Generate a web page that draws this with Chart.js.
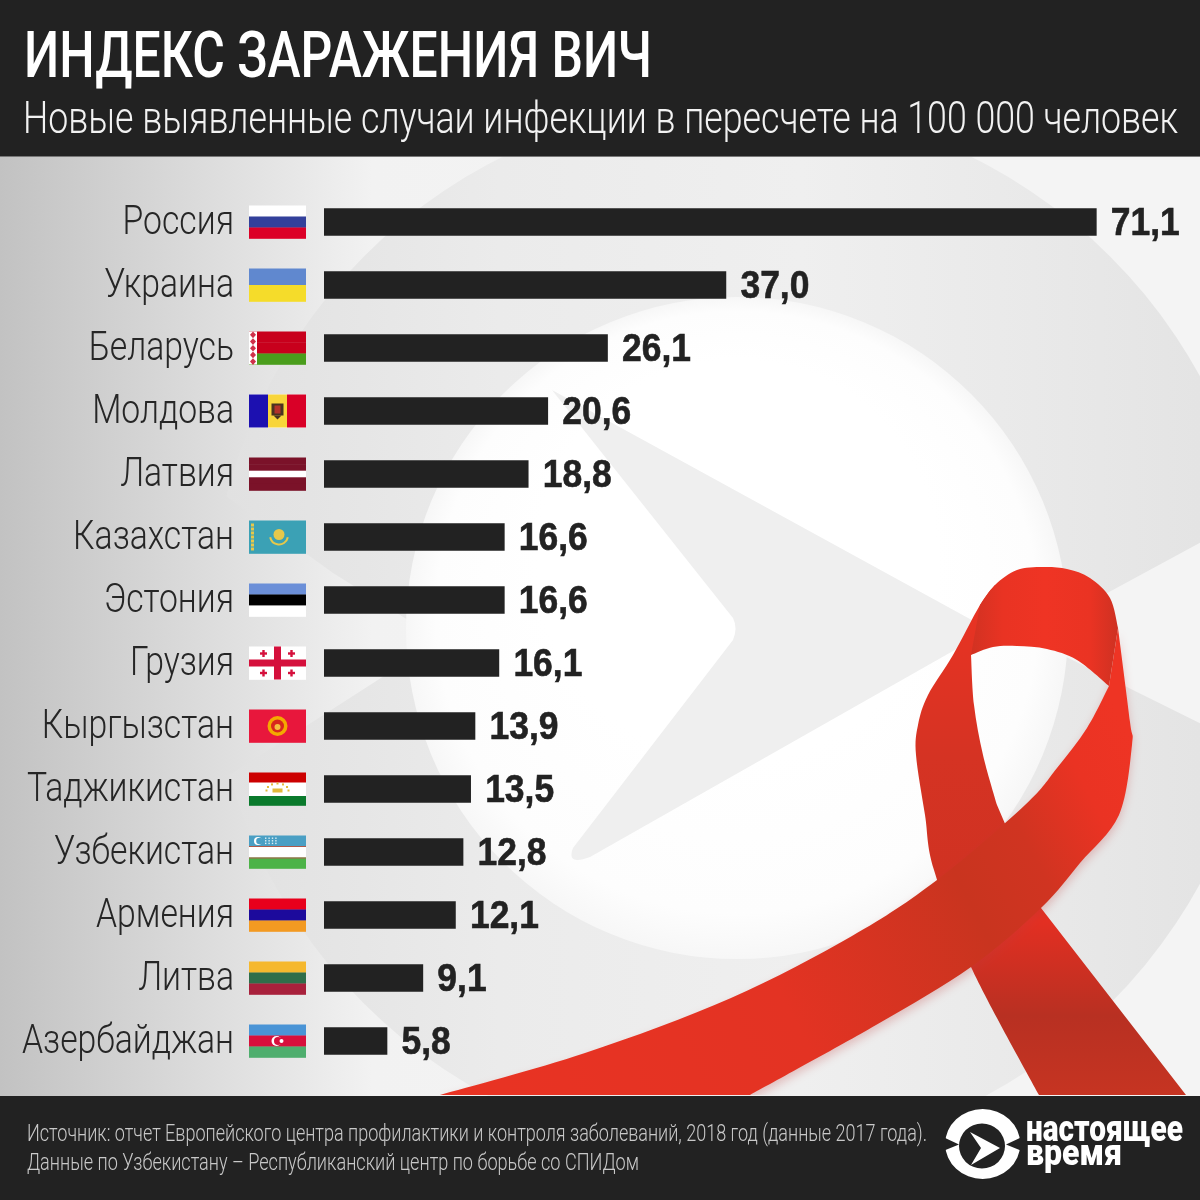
<!DOCTYPE html>
<html lang="ru">
<head>
<meta charset="utf-8">
<title>Индекс заражения ВИЧ</title>
<script src="https://cdn.jsdelivr.net/npm/chart.js@4"></script>
<style>
html, body { margin: 0; padding: 0; background: #222; }
#wrap { position: relative; width: 1200px; height: 1200px; overflow: hidden; }
canvas { position: absolute; left: 0; top: 0; }
.txt { position: absolute; white-space: nowrap; transform-origin: 0 0; font-family: Roboto, sans-serif; line-height: 1; }
#title { left: 24px; top: 23px; font-size: 65px; font-weight: 500; color: #fff; }
#subtitle { left: 23px; top: 96px; font-size: 44px; font-weight: 300; color: #f2f2f2; }
.note { left: 27px; font-size: 23px; font-weight: 300; color: #c9c9c9; }
#note1 { top: 1122px; }
#note2 { top: 1151px; }
.logo { font-weight: 900; color: #fff; font-size: 36px; left: 1026px; }
#logo1 { top: 1111px; }
#logo2 { top: 1135px; }
#mark { position: absolute; left: 940px; top: 1100px; }
</style>
</head>
<body>
<div id="wrap">
  <canvas id="chart" width="1200" height="1200"></canvas>
  <div class="txt" id="title" data-w="628">ИНДЕКС ЗАРАЖЕНИЯ ВИЧ</div>
  <div class="txt" id="subtitle" data-w="1155">Новые выявленные случаи инфекции в пересчете на 100 000 человек</div>
  <div class="txt note" id="note1" data-w="900">Источник: отчет Европейского центра профилактики и контроля заболеваний, 2018 год (данные 2017 года).</div>
  <div class="txt note" id="note2" data-w="612">Данные по Узбекистану – Республиканский центр по борьбе со СПИДом</div>
  <svg id="mark" width="90" height="90" viewBox="0 0 90 90">
    <path fill="#fff" fill-rule="evenodd" d="M42.7 9 A37.5 35 0 1 1 42.7 79 A37.5 35 0 1 1 42.7 9 Z M42 23.5 A23 22.5 0 1 0 42 68.5 A23 22.5 0 1 0 42 23.5 Z"/>
    <path fill="#222" d="M19 44.5 L3 37 L3 51 Z M66 44.5 L82 37 L82 51 Z"/>
    <path fill="#fff" d="M30 32 L60 48 L31 65 L41 48 Z"/>
  </svg>
  <div class="txt logo" id="logo1" data-w="157">настоящее</div>
  <div class="txt logo" id="logo2" data-w="96">время</div>
</div>
<script>
var categories = ['Россия', 'Украина', 'Беларусь', 'Молдова', 'Латвия', 'Казахстан', 'Эстония', 'Грузия', 'Кыргызстан', 'Таджикистан', 'Узбекистан', 'Армения', 'Литва', 'Азербайджан'];
var values = [71.1, 37.0, 26.1, 20.6, 18.8, 16.6, 16.6, 16.1, 13.9, 13.5, 12.8, 12.1, 9.1, 5.8];
var flagStripes = [
    ['#ffffff', '#33409b', '#dc0027'],
    ['#6088cf', '#f5dc2a'],
    ['#c8001c', '#c8001c', '#4a9d1c'],
    ['#ffffff'],
    ['#7b1229', '#7b1229', '#ffffff', '#7b1229', '#7b1229'],
    ['#3ba1b5'],
    ['#6b8fd8', '#000000', '#ffffff'],
    ['#ffffff'],
    ['#e8173c'],
    ['#cc0000', '#ffffff', '#0a7a2c'],
    ['#4a9fc4', '#ffffff', '#4cb348'],
    ['#e8001c', '#1c0a9c', '#f39a22'],
    ['#f5b82e', '#2f6e4a', '#a8213c'],
    ['#4a94d6', '#d8103c', '#4fae6e']
];

// squeeze the light Roboto down to the width it has in the picture
document.querySelectorAll('.txt').forEach(function (el) {
    var w = el.getBoundingClientRect().width;
    el.style.transform = 'scaleX(' + (el.dataset.w / w) + ')';
});

function chain(ctx, pts) {
    // smooth line through the points, starts from the current point (pts[0])
    for (var i = 0; i < pts.length - 1; i++) {
        var p0 = pts[i - 1] || pts[i], p1 = pts[i], p2 = pts[i + 1], p3 = pts[i + 2] || p2;
        ctx.bezierCurveTo(p1[0] + (p2[0] - p0[0]) / 6, p1[1] + (p2[1] - p0[1]) / 6,
            p2[0] - (p3[0] - p1[0]) / 6, p2[1] - (p3[1] - p1[1]) / 6, p2[0], p2[1]);
    }
}

function linear(ctx, x0, y0, x1, y1, stops) {
    var g = ctx.createLinearGradient(x0, y0, x1, y1);
    stops.forEach(function (s) { g.addColorStop(s[0], s[1]); });
    return g;
}

function drawBackground(ctx) {
    var base = linear(ctx, 0, 0, 1200, 0, [[0, '#c2c2c2'], [0.17, '#dcdcdc'], [0.25, '#e8e8e8'], [0.31, '#f2f2f2'], [0.6, '#f4f4f4'], [1, '#f4f4f4']]);
    ctx.fillStyle = base;
    ctx.fillRect(0, 156, 1200, 940);

    // big ring of the logo
    ctx.save();
    ctx.beginPath();
    ctx.rect(0, 156, 1200, 940);
    ctx.clip();
    ctx.fillStyle = linear(ctx, 200, 0, 1200, 0, [[0, '#e0e0e0'], [0.3, '#ebebeb'], [0.6, '#efefef'], [0.8, '#eaeaea'], [1, '#e4e4e4']]);
    ctx.beginPath();
    ctx.arc(737, 630, 528, 0, Math.PI * 2);
    ctx.fill();
    // gaps left and right
    ctx.fillStyle = base;
    ctx.beginPath();
    ctx.moveTo(1026, 637); ctx.lineTo(1270, 505); ctx.lineTo(1270, 758);
    ctx.closePath();
    ctx.moveTo(440, 640); ctx.lineTo(333, 573); ctx.lineTo(190, 470); ctx.lineTo(190, 800); ctx.lineTo(300, 730);
    ctx.closePath();
    ctx.fill();
    // white disc
    var disc = ctx.createRadialGradient(737, 560, 200, 737, 630, 335);
    disc.addColorStop(0, '#ffffff');
    disc.addColorStop(0.75, '#fdfdfd');
    disc.addColorStop(1, '#f6f6f6');
    ctx.fillStyle = disc;
    ctx.beginPath();
    ctx.arc(737, 628, 331, 0, Math.PI * 2);
    ctx.fill();
    // arrow in the disc
    ctx.fillStyle = '#efefef';
    ctx.beginPath();
    ctx.moveTo(552, 390);
    ctx.lineTo(990, 630);
    ctx.lineTo(590, 857);
    ctx.quadraticCurveTo(566, 866, 573, 848);
    ctx.lineTo(733, 640);
    ctx.quadraticCurveTo(738, 628, 733, 618);
    ctx.closePath();
    ctx.fill();
    ctx.restore();
}

function drawRibbon(ctx) {
    ctx.save();
    ctx.beginPath();
    ctx.rect(0, 156, 1200, 939);
    ctx.clip();

    // left side of the loop and the tail that runs to the lower right
    ctx.fillStyle = linear(ctx, 0, 567, 0, 1095, [[0, '#e93323'], [0.07, '#e93323'], [0.36, '#d53323'], [0.59, '#d03222'], [0.67, '#e32f22'], [0.85, '#b83022'], [1, '#c63422']]);
    ctx.beginPath();
    ctx.moveTo(995, 585);
    chain(ctx, [[995, 585], [980, 605], [953, 655], [928, 695], [918, 725], [916, 755], [925, 815], [934, 870], [971, 967], [1039, 1095]]);
    ctx.lineTo(1186, 1095);
    ctx.lineTo(1041, 908);
    ctx.lineTo(997, 805);
    chain(ctx, [[997, 805], [983, 755], [974, 705], [971, 655]]);
    ctx.lineTo(1017, 600);
    ctx.closePath();
    ctx.fill();

    // band in front, lower left to the right side of the loop
    ctx.save();
    ctx.shadowColor = 'rgba(190,60,60,0.28)';
    ctx.shadowBlur = 10;
    ctx.shadowOffsetY = 5;
    ctx.fillStyle = linear(ctx, 440, 1095, 1133, 743, [[0, '#e93323'], [0.45, '#e33323'], [0.72, '#c9341f'], [0.82, '#d03421'], [0.92, '#ea3323'], [1, '#ee3424']]);
    ctx.beginPath();
    ctx.moveTo(440, 1095);
    chain(ctx, [[440, 1095], [585, 1053], [731, 998], [852, 936], [937, 880], [1025, 805], [1057, 768], [1087, 728], [1109, 686]]);
    ctx.lineTo(1118, 628);
    chain(ctx, [[1118, 628], [1130, 722], [1132, 745], [1119, 815], [1080, 863], [1041, 908], [971, 967], [876, 1025], [750, 1095]]);
    ctx.closePath();
    ctx.fill();
    ctx.restore();

    // top of the loop
    ctx.fillStyle = linear(ctx, 970, 0, 1120, 0, [[0, '#d03222'], [0.22, '#e93323'], [0.5, '#ef3424'], [0.8, '#ea3323'], [1, '#cc3122']]);
    ctx.beginPath();
    ctx.moveTo(971, 655);
    chain(ctx, [[971, 655], [993, 647], [1017, 646], [1047, 649], [1077, 660], [1109, 686]]);
    ctx.lineTo(1118, 628);
    chain(ctx, [[1118, 628], [1110, 598], [1090, 578], [1067, 569], [1043, 567], [1017, 570], [995, 585], [980, 605]]);
    ctx.closePath();
    ctx.fill();
    ctx.restore();
}

function cross(ctx, cx, cy, r, w) {
    ctx.fillRect(cx - w / 2, cy - r, w, r * 2);
    ctx.fillRect(cx - r, cy - w / 2, r * 2, w);
}

// things on the flags that are not plain stripes
var emblems = {
    'Беларусь': function (ctx, x, y, w, h) {
        ctx.fillStyle = '#fff';
        ctx.fillRect(x, y, 8, h);
        ctx.fillStyle = '#d0304a';
        for (var i = 0; i < 5; i++) {
            ctx.beginPath();
            ctx.moveTo(x + 4, y + i * 6.7);
            ctx.lineTo(x + 7, y + 3.3 + i * 6.7);
            ctx.lineTo(x + 4, y + 6.7 + i * 6.7);
            ctx.lineTo(x + 1, y + 3.3 + i * 6.7);
            ctx.fill();
        }
    },
    'Молдова': function (ctx, x, y, w, h) {
        ctx.fillStyle = '#1c10b0';
        ctx.fillRect(x, y, w / 3, h);
        ctx.fillStyle = '#f8d53a';
        ctx.fillRect(x + w / 3, y, w / 3, h);
        ctx.fillStyle = '#d90027';
        ctx.fillRect(x + w * 2 / 3, y, w / 3, h);
        ctx.fillStyle = '#4a3320';
        ctx.fillRect(x + w / 2 - 6, y + 9, 12, 12);
        ctx.fillStyle = '#b3322a';
        ctx.fillRect(x + w / 2 - 3, y + 11, 6, 8);
        ctx.fillStyle = '#4a3320';
        ctx.beginPath();
        ctx.moveTo(x + w / 2 - 4, y + 21); ctx.lineTo(x + w / 2 + 4, y + 21); ctx.lineTo(x + w / 2, y + 25);
        ctx.fill();
    },
    'Казахстан': function (ctx, x, y, w, h) {
        ctx.fillStyle = '#e6c84a';
        for (var i = 0; i < 7; i++) ctx.fillRect(x + 2, y + 3 + i * 4, 3, 3);
        ctx.beginPath();
        ctx.arc(x + 30, y + 14, 5.5, 0, Math.PI * 2);
        ctx.fill();
        ctx.strokeStyle = '#e6c84a';
        ctx.lineWidth = 2;
        ctx.beginPath();
        ctx.arc(x + 30, y + 15, 9, 0.2, Math.PI - 0.2);
        ctx.stroke();
    },
    'Грузия': function (ctx, x, y, w, h) {
        ctx.fillStyle = '#d5103c';
        ctx.fillRect(x + w / 2 - 3.5, y, 7, h);
        ctx.fillRect(x, y + h / 2 - 3.5, w, 7);
        [[14.5, 7], [42.5, 7], [14.5, 26.5], [42.5, 26.5]].forEach(function (p) {
            cross(ctx, x + p[0], y + p[1], 3.5, 2.4);
        });
    },
    'Кыргызстан': function (ctx, x, y, w, h) {
        ctx.fillStyle = '#f4a900';
        ctx.beginPath();
        ctx.arc(x + w / 2, y + h / 2, 10, 0, Math.PI * 2);
        ctx.fill();
        ctx.fillStyle = '#d8281c';
        ctx.beginPath();
        ctx.arc(x + w / 2, y + h / 2, 6.5, 0, Math.PI * 2);
        ctx.fill();
        ctx.fillStyle = '#f4c040';
        ctx.beginPath();
        ctx.arc(x + w / 2, y + h / 2 + 1, 3, 0, Math.PI * 2);
        ctx.fill();
    },
    'Таджикистан': function (ctx, x, y, w, h) {
        ctx.fillStyle = '#fff';
        ctx.fillRect(x, y + 10, w, 13.5);
        ctx.fillStyle = '#e2b93a';
        ctx.fillRect(x + w / 2 - 5, y + 16, 10, 4);
        for (var i = 0; i < 7; i++) {
            var a = Math.PI + i * Math.PI / 6;
            ctx.fillRect(x + w / 2 + Math.cos(a) * 11 - 1, y + 18 + Math.sin(a) * 7 - 1, 2, 2);
        }
    },
    'Узбекистан': function (ctx, x, y, w, h) {
        ctx.fillStyle = '#b05a4a';
        ctx.fillRect(x, y + 10.5, w, 1);
        ctx.fillRect(x, y + 22, w, 1);
        ctx.fillStyle = '#fff';
        ctx.beginPath();
        ctx.arc(x + 9, y + 5.5, 4, 0, Math.PI * 2);
        ctx.fill();
        ctx.fillStyle = '#4a9fc4';
        ctx.beginPath();
        ctx.arc(x + 10.5, y + 5.5, 3.3, 0, Math.PI * 2);
        ctx.fill();
        ctx.fillStyle = '#dff0f5';
        for (var r = 0; r < 3; r++) {
            for (var c = 0; c < 4; c++) ctx.fillRect(x + 16 + c * 3.4, y + 2 + r * 2.6, 1.4, 1.4);
        }
    },
    'Азербайджан': function (ctx, x, y, w, h) {
        ctx.fillStyle = '#fff';
        ctx.beginPath();
        ctx.arc(x + w / 2 - 1, y + h / 2, 5, 0, Math.PI * 2);
        ctx.fill();
        ctx.fillStyle = '#d8103c';
        ctx.beginPath();
        ctx.arc(x + w / 2 + 0.5, y + h / 2, 4, 0, Math.PI * 2);
        ctx.fill();
        ctx.fillStyle = '#fff';
        ctx.beginPath();
        ctx.arc(x + w / 2 + 4, y + h / 2, 2, 0, Math.PI * 2);
        ctx.fill();
    }
};

function drawFlag(ctx, i, y) {
    var x = 249, w = 57, h = 33, top = y - h / 2;
    var stripes = flagStripes[i];
    stripes.forEach(function (color, k) {
        ctx.fillStyle = color;
        ctx.fillRect(x, top + k * h / stripes.length, w, h / stripes.length + 0.3);
    });
    if (emblems[categories[i]]) emblems[categories[i]](ctx, x, top, w, h);
}

var decor = {
    id: 'decor',
    beforeDraw: function (chart) {
        var ctx = chart.ctx;
        ctx.save();
        ctx.fillStyle = '#222222';
        ctx.fillRect(0, 0, 1200, 1200);
        drawBackground(ctx);
        drawRibbon(ctx);
        ctx.fillStyle = '#777';
        ctx.fillRect(0, 156, 1200, 1);
        ctx.restore();
    },
    afterDatasetsDraw: function (chart) {
        var ctx = chart.ctx, yScale = chart.scales.y, xScale = chart.scales.x;
        ctx.save();
        // country names: axis labels squeezed to the narrow look of the picture
        ctx.font = '300 40px Roboto';
        ctx.textAlign = 'right';
        ctx.textBaseline = 'alphabetic';
        var squeeze = 212 / ctx.measureText('Азербайджан').width;
        categories.forEach(function (name, i) {
            var y = yScale.getPixelForValue(i);
            ctx.save();
            ctx.fillStyle = '#262626';
            ctx.translate(234, y + 12);
            ctx.scale(squeeze, 1);
            ctx.fillText(name, 0, 0);
            ctx.restore();
            drawFlag(ctx, i, y);
        });
        // values
        ctx.font = 'bold 38.5px "Liberation Sans"';
        ctx.fillStyle = '#222222';
        ctx.strokeStyle = '#222222';
        ctx.lineWidth = 0.6;
        ctx.textAlign = 'left';
        var narrow = 69 / ctx.measureText('26,1').width;
        values.forEach(function (v, i) {
            var text = v.toFixed(1).replace('.', ',');
            ctx.save();
            ctx.translate(xScale.getPixelForValue(v) + 14.5, yScale.getPixelForValue(i) + 12.5);
            ctx.scale(narrow, 1);
            ctx.fillText(text, 0, 0);
            ctx.strokeText(text, 0, 0);
            ctx.restore();
        });
        ctx.restore();
    }
};

new Chart(document.getElementById('chart'), {
    type: 'bar',
    data: {
        labels: categories,
        datasets: [{
            data: values,
            backgroundColor: '#222222',
            barThickness: 27
        }]
    },
    plugins: [decor],
    options: {
        indexAxis: 'y',
        responsive: false,
        animation: false,
        layout: { padding: { top: 190.5, bottom: 127.5, right: 7, left: 0 } },
        plugins: { legend: { display: false }, tooltip: { enabled: false } },
        scales: {
            x: { display: false, min: 0, max: 80 },
            y: {
                ticks: { display: false },
                grid: { display: false },
                border: { display: false },
                afterFit: function (scale) { scale.width = 324; }
            }
        }
    }
});
</script>
</body>
</html>
